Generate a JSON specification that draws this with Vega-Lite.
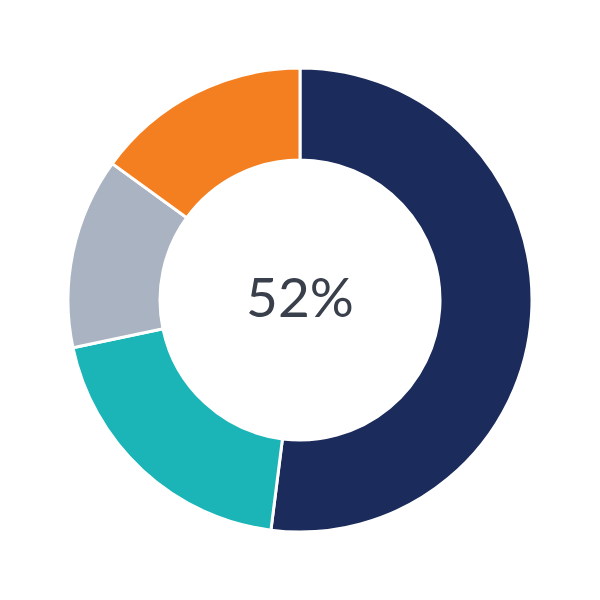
{
  "$schema": "https://vega.github.io/schema/vega-lite/v6.json",
  "autosize": {"type": "fit", "contains": "padding"},
  "width": 600,
  "height": 600,
  "padding": 0,
  "background": "white",
  "view": {"stroke": null},
  "data": {
    "values": [
      {"segment": "A", "share": 52, "rank": 1},
      {"segment": "B", "share": 19.7, "rank": 2},
      {"segment": "C", "share": 13.3, "rank": 3},
      {"segment": "D", "share": 15, "rank": 4}
    ]
  },
  "layer": [
    {
      "mark": {"type": "arc", "innerRadius": 140, "outerRadius": 232, "stroke": "white", "strokeWidth": 3},
      "encoding": {
        "theta": {"field": "share", "type": "quantitative", "stack": true},
        "order": {"field": "rank", "type": "quantitative"},
        "color": {
          "field": "segment",
          "type": "nominal",
          "legend": null,
          "scale": {"domain": ["A", "B", "C", "D"], "range": ["#1b2b5b", "#1bb5b8", "#a9b3c1", "#f47f20"]}
        }
      }
    },
    {
      "data": {"values": [{"label": "52%"}]},
      "mark": {"type": "text", "font": "Lato", "fontSize": 55, "fontWeight": 400, "color": "#3a404b", "baseline": "middle", "align": "center"},
      "encoding": {"text": {"field": "label"}}
    }
  ]
}
